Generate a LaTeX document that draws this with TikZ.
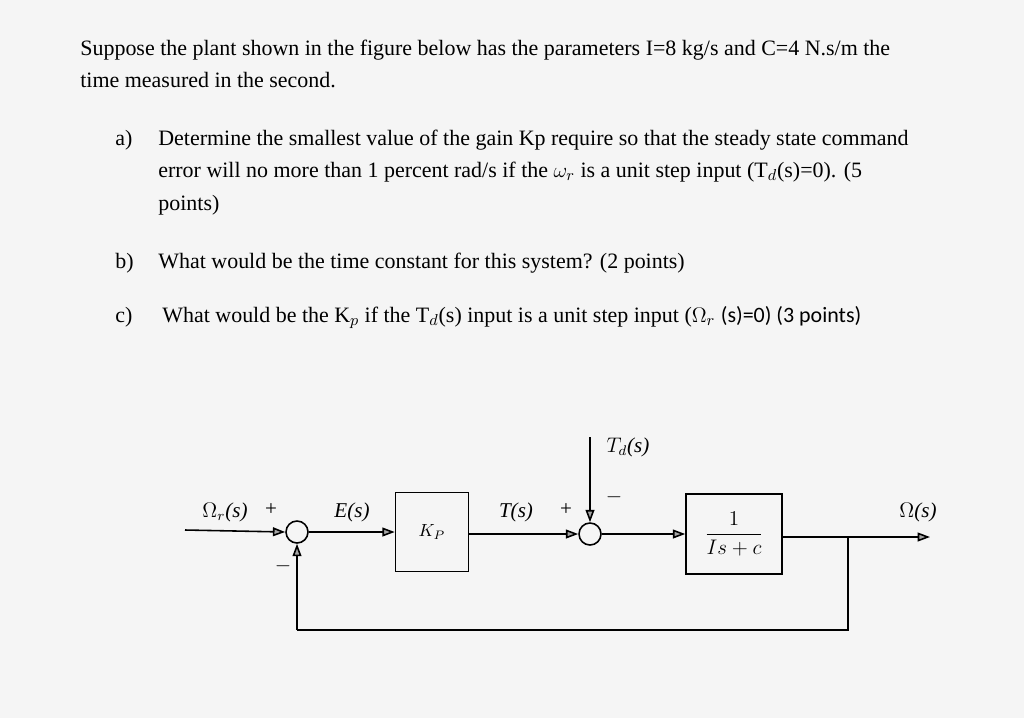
\documentclass[tikz,border=0pt]{standalone}
\usepackage{fontspec}
\setmainfont{Liberation Serif}
\newfontfamily\calfnt{Carlito}
\usetikzlibrary{arrows.meta}
\begin{document}
\begin{tikzpicture}[x=0.02cm,y=-0.02cm,
  txt/.style={anchor=base west,inner sep=0pt,font=\fontsize{12.5}{14}\selectfont},
  lbl/.style={inner sep=0pt,font=\fontsize{12}{14}\selectfont\itshape},
  blk/.style={draw,line width=0.9pt,inner sep=0pt},
  sumc/.style={draw,circle,line width=0.9pt,minimum size=0.44cm,inner sep=0pt},
  sig/.style={line width=0.9pt,-{Triangle[length=7pt,width=5pt,fill=gray!70]}},
  wire/.style={line width=0.9pt}]
\fill[gray!8] (0,0) rectangle (1024,718);
\useasboundingbox (0,0) rectangle (1024,718);
\node[txt] (l1) at (80,55) {Suppose the plant shown in the figure below has the parameters I=8 kg/s and C=4 N.s/m the};
\node[txt] (l2) at (80,87) {time measured in the second.};
\node[txt] (la) at (115,145) {a)};
\node[txt] (a1) at (158,145) {Determine the smallest value of the gain Kp require so that the steady state command};
\node[txt] (a2) at (158,177) {error will no more than 1 percent rad/s if the $\omega_r$ is a unit step input (T$_d$(s)=0). (5};
\node[txt] (a3) at (158,210) {points)};
\node[txt] (lb) at (115,268) {b)};
\node[txt] (b1) at (158,268) {What would be the time constant for this system? (2 points)};
\node[txt] (lc) at (115,322) {c)};
\node[txt] (c1) at (162,322) {What would be the K$_p$ if the T$_d$(s) input is a unit step input ($\Omega_r$ {\calfnt(s)=0) (3 points)}};
% diagram
\node[sumc] (s1) at (297,532) {};
\node[sumc] (s2) at (590,534) {};
\node[blk,minimum width=1.46cm,minimum height=1.58cm] (kp) at (432,532) {$K_P$};
\node[blk,minimum width=1.92cm,minimum height=1.6cm,font=\fontsize{12}{14}\selectfont] (g) at (734,534) {$\displaystyle\frac{1}{Is+c}$};
\coordinate (in) at (185,530);
\coordinate (out) at (930,537);
\coordinate (br) at (848,537);
\coordinate (fb) at (848,630);
\coordinate (fb2) at (297,630);
\coordinate (td) at (590,437);
\draw[sig] (in) -- (s1.west);
\draw[sig] (s1.east) -- (kp.west|-s1.east);
\draw[sig] (kp.east|-s2.west) -- (s2.west);
\draw[sig] (s2.east) -- (g.west|-s2.east);
\draw[sig] (g.east|-out) -- (out);
\draw[wire] (br) -- (fb) -- (fb2);
\draw[sig] (fb2) -- (s1.south);
\draw[sig] (td) -- (s2.north);
\node[lbl] (lr) at (225,512) {$\Omega_r$(s)};
\node[lbl,font=\fontsize{12}{14}\selectfont] (p1) at (271,510) {+};
\node[lbl,font=\fontsize{12}{14}\selectfont] (m1) at (283,566) {$-$};
\node[lbl] (le) at (352,512) {E(s)};
\node[lbl] (lt) at (516,512) {T(s)};
\node[lbl,font=\fontsize{12}{14}\selectfont] (p2) at (566,510) {+};
\node[lbl,font=\fontsize{12}{14}\selectfont] (m2) at (614,497) {$-$};
\node[lbl] (ltd) at (628,447) {$T_d$(s)};
\node[lbl] (lo) at (918,512) {$\Omega$(s)};
\end{tikzpicture}
\end{document}
